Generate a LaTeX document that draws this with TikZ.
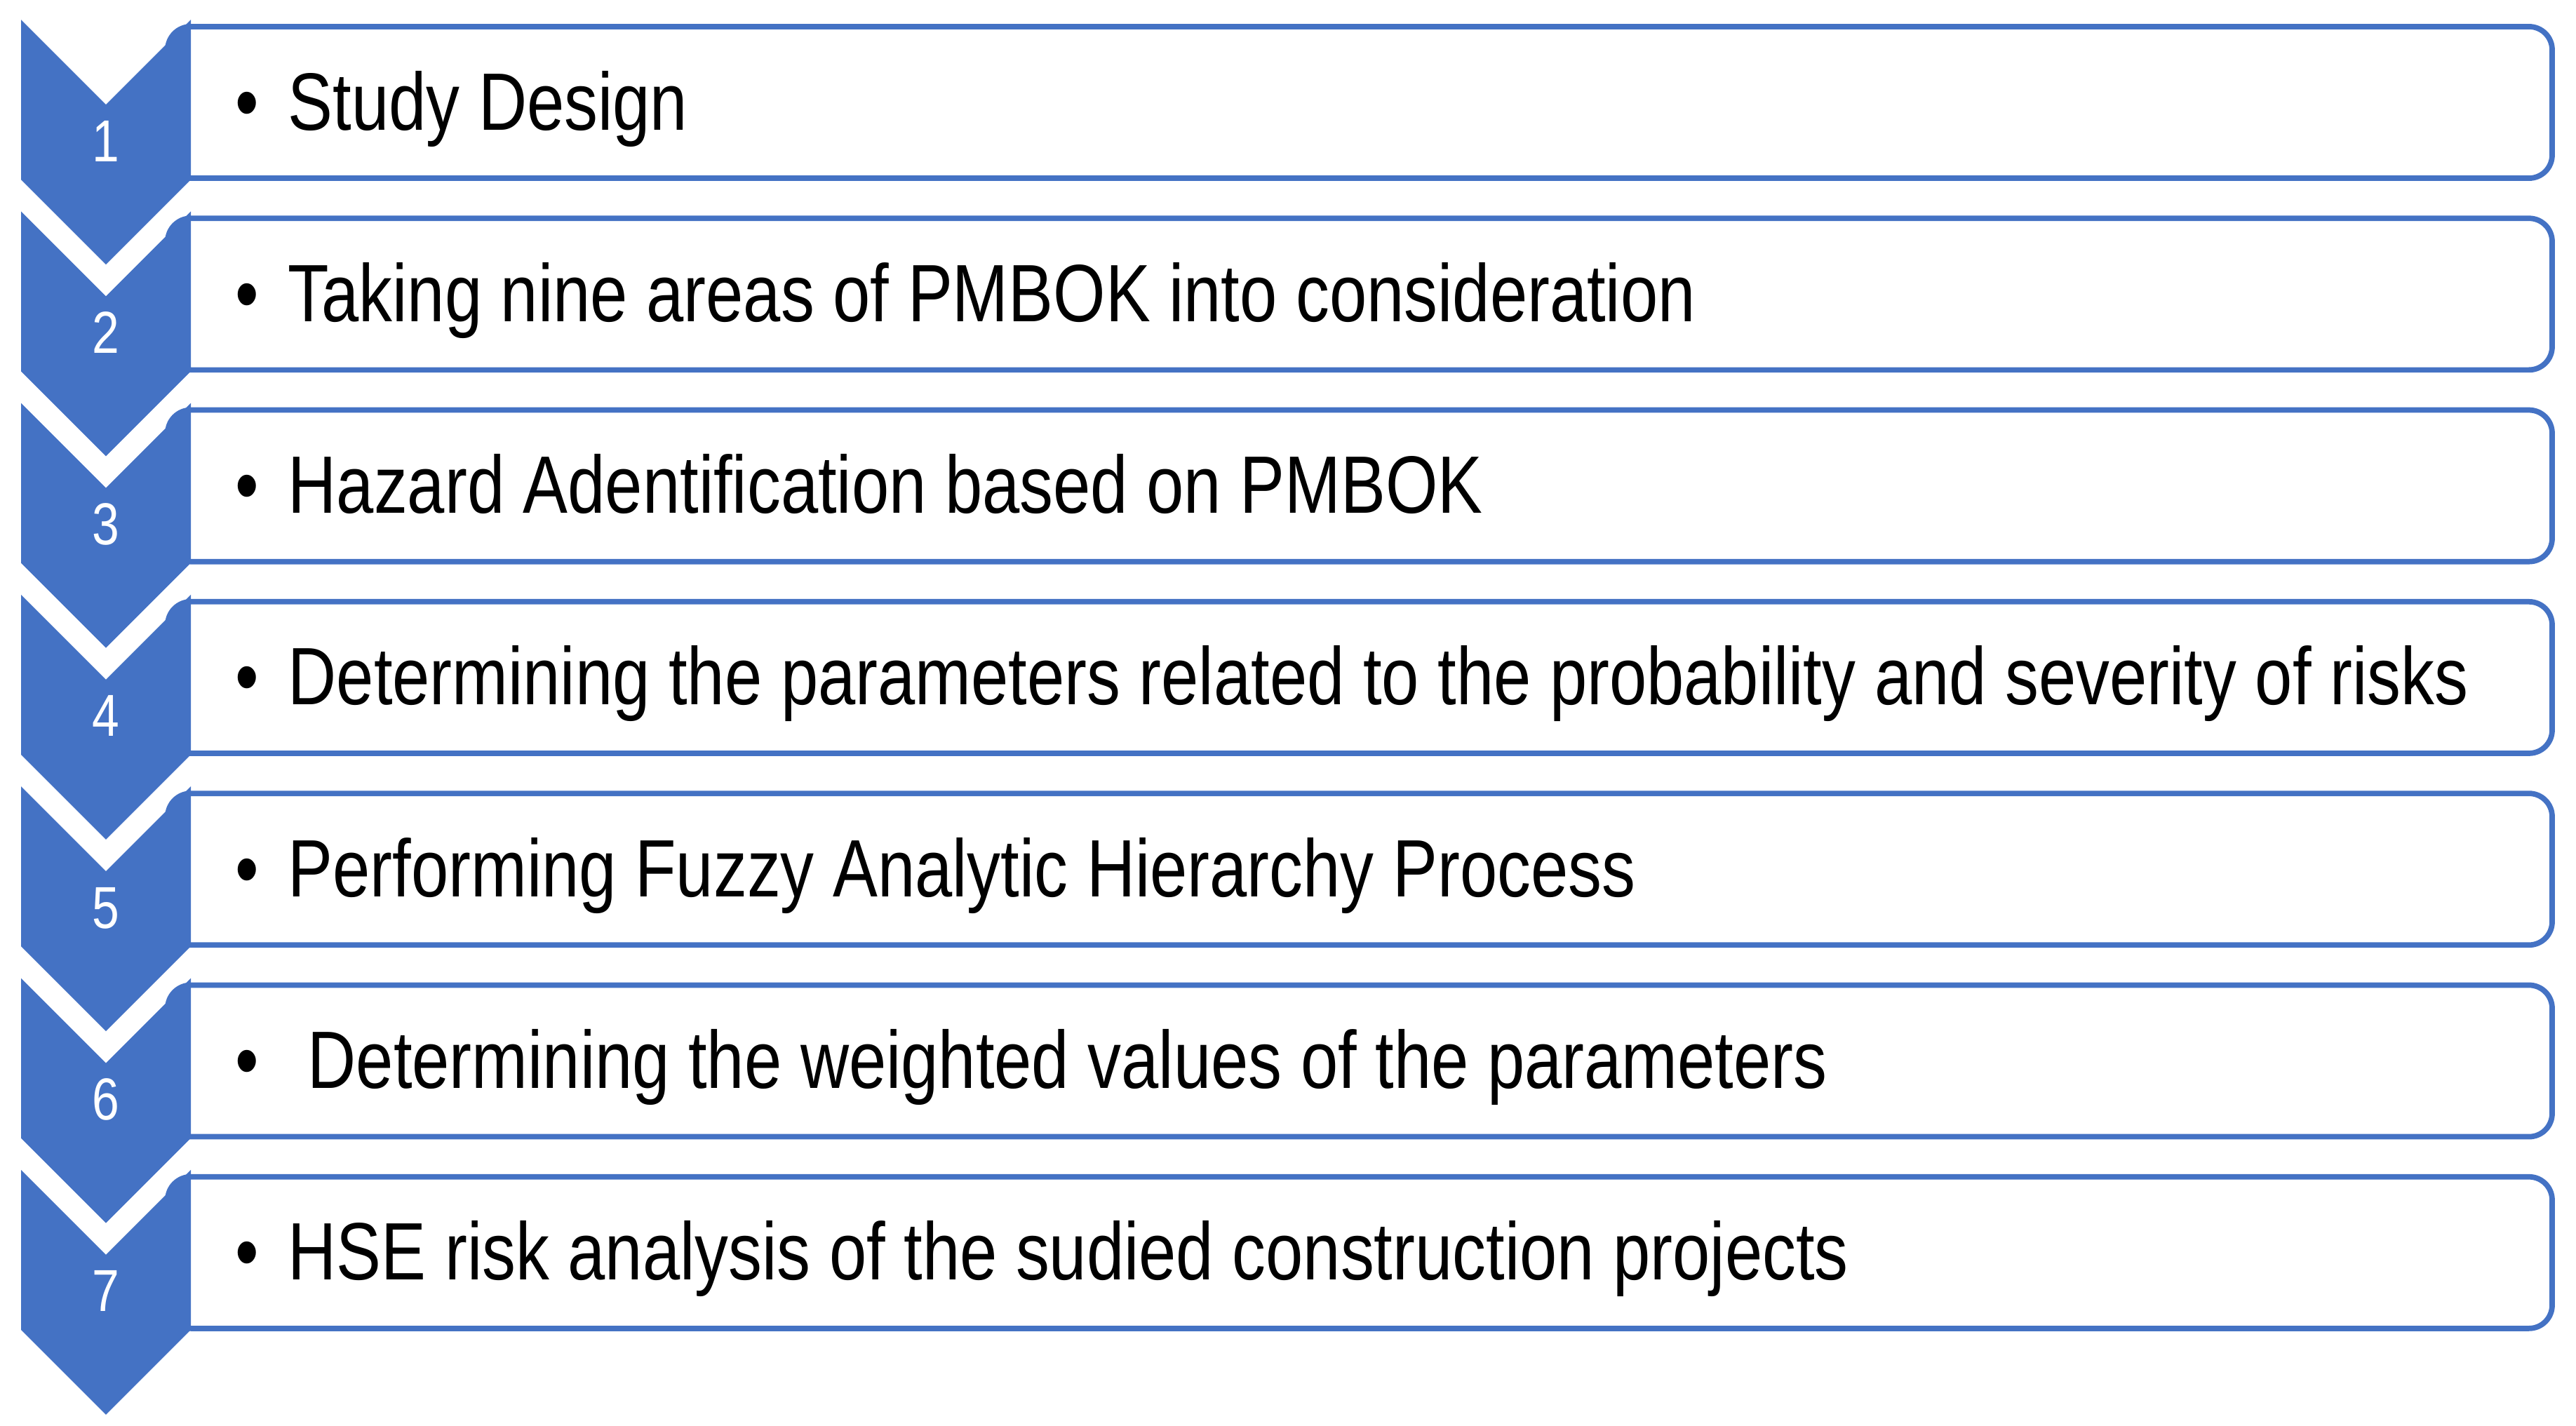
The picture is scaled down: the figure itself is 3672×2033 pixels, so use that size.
\documentclass[tikz,border=0pt]{standalone}
\usepackage{fontspec}
\setmainfont{Liberation Sans}[FakeStretch=0.825]
\definecolor{hblue}{HTML}{4472C4}
\begin{document}
\begin{tikzpicture}[x=0.01cm,y=-0.01cm,
  stepbox/.style={draw=hblue, line width=2.2pt, rounded corners=0.33cm, fill=white,
    minimum width=33.97cm, minimum height=2.16cm, inner sep=0pt},
  steptext/.style={anchor=base west, inner sep=0pt, font=\fontsize{33}{40}\selectfont, text=black},
  stepnum/.style={anchor=base, inner sep=0pt, font=\fontsize{24}{28}\selectfont, text=white},
  chev/.style={fill=hblue, draw=none}]
\useasboundingbox (0,0) rectangle (3672,2033);
\foreach \i/\txt in {1/{Study Design},
  2/{Taking nine areas of PMBOK into consideration},
  3/{Hazard Adentification based on PMBOK},
  4/{Determining the parameters related to the probability and severity of risks},
  5/{Performing Fuzzy Analytic Hierarchy Process},
  6/{\hspace{0.28cm}Determining the weighted values of the parameters},
  7/{HSE risk analysis of the sudied construction projects}}{
  \pgfmathsetmacro\t{28+(\i-1)*273.3}
  \node[stepbox] (box\i) at (1938.5,\t+118) {};
  \fill[chev] (30,\t) -- (151,\t+121) -- (272,\t) -- (272,\t+228) -- (151,\t+349) -- (30,\t+228) -- cycle;
  \node[stepnum] (num\i) at (151,\t+202) {\i};
  \node[steptext] (txt\i) at (335,\t+157) {\makebox[0.75cm][l]{•}\txt};
}
\end{tikzpicture}
\end{document}
